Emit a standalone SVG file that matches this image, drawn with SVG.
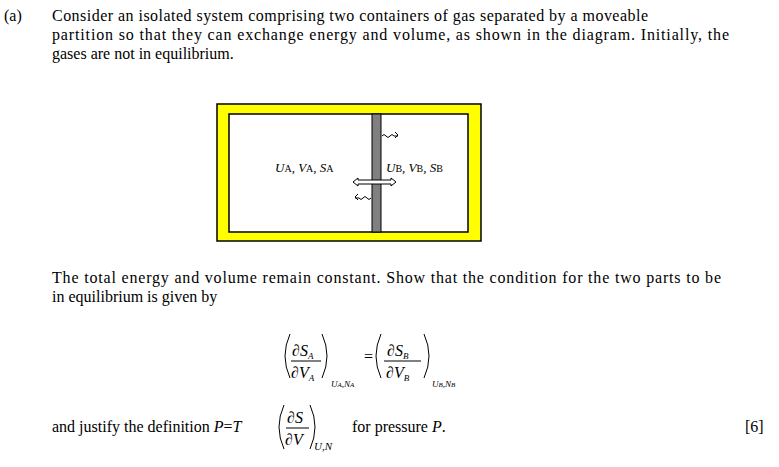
<svg xmlns="http://www.w3.org/2000/svg" width="779" height="467" viewBox="0 0 779 467" font-family="'Liberation Serif', 'Times New Roman', 'DejaVu Serif', serif">
<style>
text{font-family:'Liberation Serif','Times New Roman',serif;font-size:16px;fill:#000}
.i{font-style:italic}
.s{font-size:9px;font-style:italic}
.p{fill:none;stroke:#000;stroke-width:1}
</style>
<rect width="779" height="467" fill="#fff"/>
<g id="text">
<text x="4" y="21">(a)</text>
<text x="52" y="21" textLength="596">Consider an isolated system comprising two containers of gas separated by a moveable</text>
<text x="52" y="40" textLength="677">partition so that they can exchange energy and volume, as shown in the diagram. Initially, the</text>
<text x="52" y="59">gases are not in equilibrium.</text>
<text x="52" y="283" textLength="669">The total energy and volume remain constant. Show that the condition for the two parts to be</text>
<text x="52" y="302">in equilibrium is given by</text>
<text x="52" y="432">and justify the definition <tspan class="i">P</tspan>=<tspan class="i">T</tspan></text>
<text x="352" y="432">for pressure <tspan class="i">P</tspan>.</text>
<text x="745" y="432">[6]</text>
</g>
<g id="container">
<rect x="217" y="104" width="264" height="137" fill="#ff0" stroke="#000" stroke-width="1.5"/>
<rect x="229" y="114" width="239" height="118" fill="#fff" stroke="#000" stroke-width="1.5"/>
<rect x="372" y="114" width="9" height="118" fill="#808080" stroke="#000" stroke-width="1"/>
<text x="275" y="172" class="i" style="font-size:13px">U<tspan style="font-size:10px;font-style:normal">A</tspan>, V<tspan style="font-size:10px;font-style:normal">A</tspan>, S<tspan style="font-size:10px;font-style:normal">A</tspan></text>
<text x="386" y="172" class="i" style="font-size:13px">U<tspan style="font-size:10px;font-style:normal">B</tspan>, V<tspan style="font-size:10px;font-style:normal">B</tspan>, S<tspan style="font-size:10px;font-style:normal">B</tspan></text>
<path d="M353,182 l5,-4 v2 h33 v-2 l5,4 l-5,4 v-2 h-33 v2 z" fill="#fff" stroke="#000" stroke-width="1"/>
<path d="M382,136 q2,-3 4,0 t4,0 t4,0 h4 M395,132 l3,3 l-3,3" class="p"/>
<path d="M371,198 q-2,3 -4,0 t-4,0 t-4,0 h-4 M358,194 l-3,3 l3,3" class="p"/>
</g>
<g id="eq1">
<path d="M290,334 q-10,22 0,44 M322,334 q10,22 0,44" class="p"/>
<text x="292" y="356" class="i">∂S<tspan class="s" dy="3">A</tspan></text>
<line x1="291" y1="361" x2="321" y2="361" stroke="#000"/>
<text x="291" y="378" class="i">∂V<tspan class="s" dy="3">A</tspan></text>
<text x="331" y="387" class="s">U<tspan style="font-size:7px">A</tspan>,N<tspan style="font-size:7px">A</tspan></text>
<text x="364" y="362">=</text>
<path d="M381,334 q-10,22 0,44 M424,334 q10,22 0,44" class="p"/>
<text x="387" y="356" class="i">∂S<tspan class="s" dy="3">B</tspan></text>
<line x1="384" y1="361" x2="421" y2="361" stroke="#000"/>
<text x="386" y="378" class="i">∂V<tspan class="s" dy="3">B</tspan></text>
<text x="432" y="387" class="s">U<tspan style="font-size:7px">B</tspan>,N<tspan style="font-size:7px">B</tspan></text>
</g>
<g id="eq2">
<path d="M284,405 q-10,22 0,44 M310,405 q10,22 0,44" class="p"/>
<text x="287" y="423" class="i">∂S</text>
<line x1="286" y1="428" x2="309" y2="428" stroke="#000"/>
<text x="285" y="445" class="i">∂V</text>
<text x="314" y="450" class="s" style="font-size:11px">U,N</text>
</g>
</svg>
